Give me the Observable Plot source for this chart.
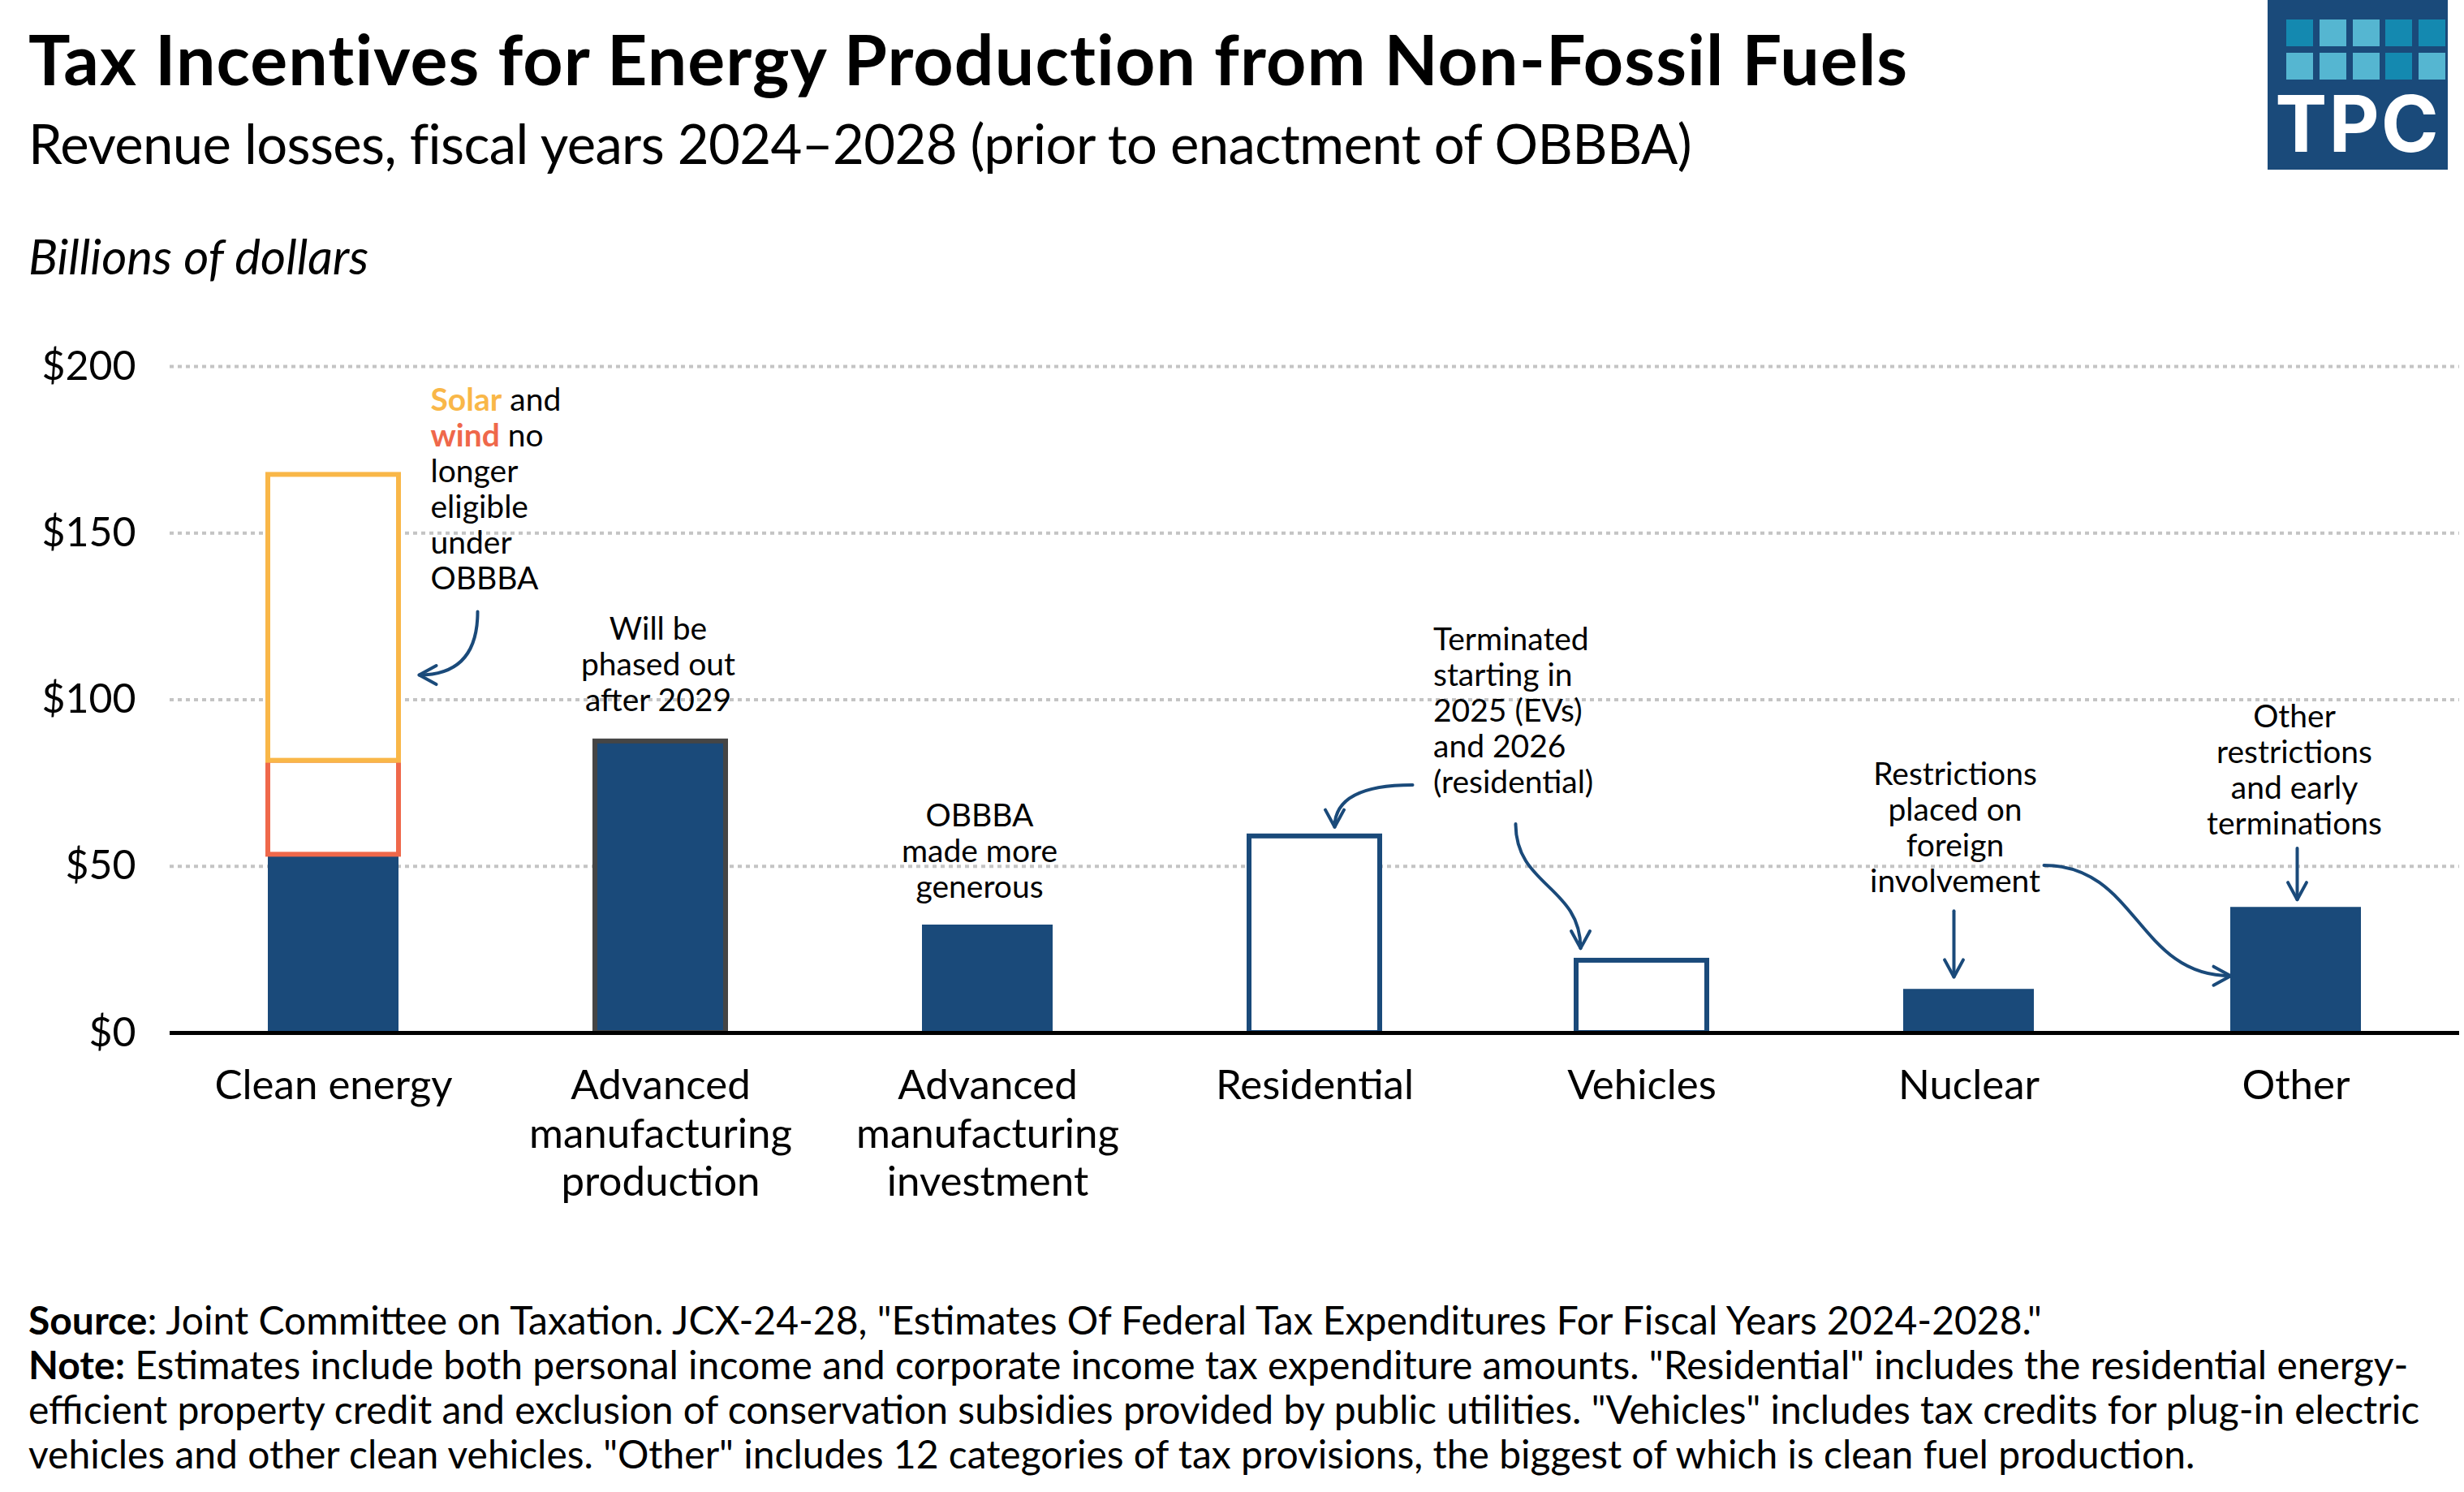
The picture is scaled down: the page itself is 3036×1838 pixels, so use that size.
<!DOCTYPE html>
<html>
<head>
<meta charset="utf-8">
<script src="https://cdn.jsdelivr.net/npm/d3@7"></script>
<script src="https://cdn.jsdelivr.net/npm/@observablehq/plot@0.6"></script>
<style>
  html, body { margin: 0; padding: 0; background: #fff; }
  body { width: 3036px; height: 1838px; position: relative; overflow: hidden; font-family: Lato, "Noto Sans", sans-serif; color: #000; }
  .abs { position: absolute; white-space: nowrap; line-height: 1; }
  #title { left: 35px; top: 29px; font-size: 86px; font-weight: 700; letter-spacing: 1.1px; }
  #subtitle { left: 35px; top: 143px; font-size: 67px; letter-spacing: -0.6px; }
  #unit { left: 35px; top: 285px; font-size: 60px; font-style: italic; }
  #chart { position: absolute; left: 0; top: 380px; }
  #footer { position: absolute; left: 35px; top: 1598px; font-size: 48px; line-height: 55px; white-space: nowrap; }
  #logo { position: absolute; left: 2794px; top: 0; width: 222px; height: 209px; background: #1a4a7a; }
  #logo .sq { position: absolute; width: 33px; height: 33px; }
  #logo .tpc { position: absolute; left: 0; width: 222px; top: 104px; text-align: center; color: #fff; font-family: Inter, "Open Sans", sans-serif; font-weight: 700; font-size: 96px; line-height: 1; letter-spacing: 2px; }
</style>
</head>
<body>
<div id="title" class="abs">Tax Incentives for Energy Production from Non-Fossil Fuels</div>
<div id="subtitle" class="abs">Revenue losses, fiscal years 2024–2028 (prior to enactment of OBBBA)</div>
<div id="unit" class="abs">Billions of dollars</div>
<div id="logo"></div>
<div id="chart"></div>
<div id="footer">
<b>Source</b>: Joint Committee on Taxation. JCX-24-28, "Estimates Of Federal Tax Expenditures For Fiscal Years 2024-2028."<br>
<b>Note:</b> Estimates include both personal income and corporate income tax expenditure amounts. "Residential" includes the residential energy-<br>
efficient property credit and exclusion of conservation subsidies provided by public utilities. "Vehicles" includes tax credits for plug-in electric<br>
vehicles and other clean vehicles. "Other" includes 12 categories of tax provisions, the biggest of which is clean fuel production.
</div>
<script>
// ---------------- DATA ----------------
const categories = ["Clean energy", "Advanced manufacturing production", "Advanced manufacturing investment", "Residential", "Vehicles", "Nuclear", "Other"];
const categoryLabels = ["Clean energy", "Advanced\nmanufacturing\nproduction", "Advanced\nmanufacturing\ninvestment", "Residential", "Vehicles", "Nuclear", "Other"];
// revenue losses FY2024-2028, billions of dollars (remaining part of each bar)
const baseValues = [53.5, 87.5, 32.4, 59.0, 21.7, 13.1, 37.7];
// status of each category under OBBBA
const barStatus = ["kept", "phased", "kept", "terminated", "terminated", "kept", "kept"];
// clean energy pieces no longer eligible
const windValue = 28.2;
const solarValue = 85.8;
const yTicks = [0, 50, 100, 150, 200];

// annotations (anchored to category + value)
const notes = [
  {cat: "Advanced manufacturing production", v: 110.7, dx: -3, anchor: "middle", text: "Will be\nphased out\nafter 2029"},
  {cat: "Advanced manufacturing investment", v: 54.8, dx: -10, anchor: "middle", text: "OBBBA\nmade more\ngenerous"},
  {cat: "Residential", v: 96.8, dx: 146, anchor: "start", text: "Terminated\nstarting in\n2025 (EVs)\nand 2026\n(residential)"},
  {cat: "Nuclear", v: 61.7, dx: -17, anchor: "middle", text: "Restrictions\nplaced on\nforeign\ninvolvement"},
  {cat: "Other", v: 79.1, dx: -2, anchor: "middle", text: "Other\nrestrictions\nand early\nterminations"}
];
const solarNote = {cat: "Clean energy", v: 162.9, dx: 120, lines: [
  [["Solar", "#f9b748", 700], [" and", "#000", 400]],
  [["wind", "#ef684b", 700], [" no", "#000", 400]],
  [["longer", "#000", 400]],
  [["eligible", "#000", 400]],
  [["under", "#000", 400]],
  [["OBBBA", "#000", 400]]
]};
// arrows: [category, pixel offset from band centre, value]
const arrows = [
  {kind: "vh", from: ["Clean energy", 178, 126.3], to: ["Clean energy", 106, 107.3]},
  {kind: "hv", from: ["Residential", 121, 74.3], to: ["Residential", 25, 61.7]},
  {kind: "bumpY", from: ["Vehicles", -155, 62.6], to: ["Vehicles", -75, 25.3]},
  {kind: "line", from: ["Nuclear", -18, 36.5], to: ["Nuclear", -18, 16.7]},
  {kind: "bumpX", from: ["Nuclear", 93, 50.2], to: ["Other", -80, 17.0]},
  {kind: "line", from: ["Other", 2, 55.3], to: ["Other", 2, 39.9]}
];

// ---------------- COLORS ----------------
const navy = "#1a4a7a";
const styleOf = {
  kept: {fill: navy, stroke: "none"},
  phased: {fill: navy, stroke: "#454545"},
  terminated: {fill: "#fff", stroke: navy}
};

const table = [];
categories.forEach((c, i) => {
  table.push({cat: c, value: baseValues[i], ...styleOf[barStatus[i]]});
  if (c === "Clean energy") {
    table.push({cat: c, value: windValue, fill: "#fff", stroke: "#ef684b"});
    table.push({cat: c, value: solarValue, fill: "#fff", stroke: "#f9b748"});
  }
});

// logo
const logo = document.getElementById("logo");
const sqColors = [["#1489b0", "#55b6d1", "#55b6d1", "#1489b0", "#1489b0"], ["#55b6d1", "#55b6d1", "#55b6d1", "#1489b0", "#55b6d1"]];
sqColors.forEach((row, r) => row.forEach((col, c) => {
  const d = document.createElement("div");
  d.className = "sq";
  d.style.left = (23 + c * 40.8) + "px";
  d.style.top = (24 + r * 41) + "px";
  d.style.background = col;
  logo.appendChild(d);
}));
const tpc = document.createElement("div");
tpc.className = "tpc"; tpc.textContent = "TPC";
logo.appendChild(tpc);

// custom marks
function richNote(note) {
  return (index, scales) => {
    const fs = 39, lh = 44;
    const x0 = scales.x(note.cat) + scales.x.bandwidth() / 2 + note.dx;
    const yMid = scales.y(note.v);
    const n = note.lines.length;
    const y0 = yMid - (n - 1) / 2 * lh + 0.32 * fs;
    const t = d3.create("svg:text").attr("font-size", fs).attr("font-family", "Lato, sans-serif").attr("text-anchor", "start");
    note.lines.forEach((segs, i) => {
      const line = t.append("tspan").attr("x", x0).attr("y", y0 + i * lh);
      segs.forEach(([s, col, w]) => line.append("tspan").attr("fill", col).attr("font-weight", w).text(s));
    });
    return t.node();
  };
}
function arrowMarks(list) {
  return (index, scales) => {
    const bw = scales.x.bandwidth();
    const P = (p) => [scales.x(p[0]) + bw / 2 + p[1], scales.y(p[2])];
    const g = d3.create("svg:g").attr("fill", "none").attr("stroke", navy).attr("stroke-width", 4)
      .attr("stroke-linecap", "round").attr("stroke-linejoin", "round");
    for (const a of list) {
      const [x1, y1] = P(a.from), [x2, y2] = P(a.to);
      let d, ang;
      if (a.kind === "vh") { d = `M${x1},${y1}Q${x1},${y2} ${x2},${y2}`; ang = Math.atan2(0, x2 - x1); }
      else if (a.kind === "hv") { d = `M${x1},${y1}Q${x2},${y1} ${x2},${y2}`; ang = Math.atan2(y2 - y1, 0); }
      else if (a.kind === "bumpY") { const ym = (y1 + y2) / 2; d = `M${x1},${y1}C${x1},${ym} ${x2},${ym} ${x2},${y2}`; ang = Math.atan2(y2 - y1, 0); }
      else if (a.kind === "bumpX") { const xm = (x1 + x2) / 2; d = `M${x1},${y1}C${xm},${y1} ${xm},${y2} ${x2},${y2}`; ang = Math.atan2(0, x2 - x1); }
      else { d = `M${x1},${y1}L${x2},${y2}`; ang = Math.atan2(y2 - y1, x2 - x1); }
      g.append("path").attr("d", d);
      const L = 24, phi = 0.5;
      const ax = x2 - L * Math.cos(ang - phi), ay = y2 - L * Math.sin(ang - phi);
      const bx = x2 - L * Math.cos(ang + phi), by = y2 - L * Math.sin(ang + phi);
      g.append("path").attr("d", `M${ax},${ay}L${x2},${y2}L${bx},${by}`);
    }
    return g.node();
  };
}

const plot = Plot.plot({
  width: 3036,
  height: 1180,
  marginLeft: 209,
  marginRight: 6,
  marginTop: 71,
  marginBottom: 288,
  style: {fontFamily: "Lato, sans-serif", background: "transparent", overflow: "visible", color: "#000"},
  x: {domain: categories, paddingInner: 0.6, paddingOuter: 0.3, axis: null},
  y: {domain: [0, 200], axis: null},
  color: {type: "identity"},
  marks: [
    Plot.gridY(yTicks.filter(d => d > 0), {stroke: "#c4c4c4", strokeOpacity: 1, strokeWidth: 4, strokeDasharray: "5,5"}),
    Plot.axisY(yTicks, {tickSize: 0, tickPadding: 42, fontSize: 50, label: null, tickFormat: d => "$" + d}),
    Plot.axisX({tickSize: 0, tickPadding: 39, fontSize: 51, lineHeight: 1.17, label: null, tickFormat: d => categoryLabels[categories.indexOf(d)]}),
    Plot.barY(table, {x: "cat", y: "value", fill: "fill", stroke: "stroke", strokeWidth: 6}),
    Plot.ruleY([0], {stroke: "#000", strokeWidth: 5}),
    ...notes.map(n => Plot.text([n], {x: "cat", y: "v", text: "text", dx: n.dx, textAnchor: n.anchor, lineAnchor: "middle", fontSize: 39, lineHeight: 1.13, fill: "#000"})),
    richNote(solarNote),
    arrowMarks(arrows)
  ]
});
document.getElementById("chart").appendChild(plot);
</script>
</body>
</html>
